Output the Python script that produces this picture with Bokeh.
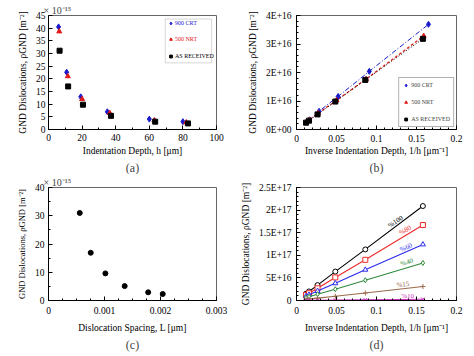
from bokeh.plotting import figure
from bokeh.layouts import gridplot
from bokeh.models import (Range1d, SingleIntervalTicker, Legend, LegendItem,
                          Title, CustomJSTickFormatter, BoxAnnotation, BasicTickFormatter)
from bokeh.embed import file_html
from bokeh.resources import INLINE
from bokeh.core.properties import value

FONT = "Liberation Serif"

# ---------------- data ----------------
# (a) GND density (x 1e-15) vs indentation depth h [um]
h_900 = [6.0, 10.8, 19.2, 35.0, 60.0, 80.0]
rho_900 = [40.5, 22.6, 12.9, 7.0, 4.1, 3.1]
h_500 = [6.4, 11.5, 20.0, 36.5, 63.0, 82.0]
rho_500 = [38.7, 21.0, 12.0, 6.5, 3.6, 2.8]
h_asr = [6.6, 11.7, 20.5, 37.2, 63.5, 83.0]
rho_asr = [31.1, 17.0, 9.8, 5.4, 3.1, 2.4]
series_names = ["900 CRT", "500 NRT", "AS RECEIVED"]

# (b) GND density vs inverse depth 1/h
inv_900 = [0.0123, 0.0164, 0.0282, 0.0520, 0.0910, 0.1650]
rb_900 = [2.6e15, 3.4e15, 6.4e15, 1.16e16, 2.04e16, 3.69e16]
inv_500 = [0.0120, 0.0158, 0.0270, 0.0500, 0.0870, 0.1590]
rb_500 = [2.5e15, 3.3e15, 5.7e15, 1.02e16, 1.77e16, 3.28e16]
inv_asr = [0.0119, 0.0156, 0.0263, 0.0485, 0.0860, 0.1580]
rb_asr = [2.4e15, 3.1e15, 5.3e15, 9.8e15, 1.74e16, 3.18e16]

# (c) GND density (x 1e-15) vs dislocation spacing L [um]
spacing_L = [0.000558, 0.000754, 0.001016, 0.00136, 0.00178, 0.00204]
rho_c = [31.0, 16.9, 9.6, 5.1, 2.9, 2.3]

# (d) GND density vs inverse depth for different fractions
inv_d = [0.0119, 0.0156, 0.0263, 0.0485, 0.0860, 0.1580]
frac_labels = ["%100", "%80", "%60", "%40", "%15", "%10"]
rho_d = {
    "%100": [1.5e16, 2.0e16, 3.4e16, 6.4e16, 1.13e17, 2.09e17],
    "%80": [1.2e16, 1.6e16, 2.7e16, 5.1e16, 9.0e16, 1.67e17],
    "%60": [9.5e15, 1.25e16, 2.1e16, 3.8e16, 6.8e16, 1.24e17],
    "%40": [6.5e15, 8.5e15, 1.4e16, 2.5e16, 4.5e16, 8.3e16],
    "%15": [2.4e15, 3.1e15, 5.2e15, 9.3e15, 1.65e16, 3.1e16],
    "%10": [2.0e14, 2.6e14, 4.4e14, 8.0e14, 1.4e15, 2.6e15],
}
# annotation anchors for the fraction labels (data units) and rotation (deg)
lab_x = [0.124, 0.136, 0.137, 0.138, 0.133, 0.139]
lab_y = [1.74e17, 1.55e17, 1.17e17, 8.4e16, 3.5e16, 1.0e16]
lab_angle = [34, 29, 24, 17, 6, 0]

BLUE = "#1a1acc"
RED = "#e01a1a"
BLACK = "#000000"
d_colors = ["#000000", "#ee2a2a", "#2a2aee", "#2e8b3a", "#9a6a4a", "#cc33bb"]
d_markers = ["circle", "square", "triangle", "diamond", "cross", "x"]

TOP_H = 174
BOT_H = 182


def style(p, xint, xminor, yint, yminor):
    p.outline_line_color = "#666666"
    p.xgrid.visible = False
    p.ygrid.visible = False
    p.xaxis[0].ticker = SingleIntervalTicker(interval=xint, num_minor_ticks=xminor)
    p.yaxis[0].ticker = SingleIntervalTicker(interval=yint, num_minor_ticks=yminor)
    for ax in (p.xaxis[0], p.yaxis[0]):
        ax.axis_line_color = "#000000"
        ax.major_tick_line_color = "#000000"
        ax.minor_tick_line_color = "#000000"
        ax.major_tick_in = 4
        ax.major_tick_out = 0
        ax.minor_tick_in = 2
        ax.minor_tick_out = 0
        ax.major_label_text_font = FONT
        ax.major_label_text_font_size = "9.5px"
        ax.major_label_text_color = "#000000"
        ax.axis_label_text_font = FONT
        ax.axis_label_text_font_size = "9.5px"
        ax.axis_label_text_font_style = "normal"
        ax.axis_label_text_color = "#000000"
    if yminor <= 1:
        p.yaxis[0].minor_tick_line_color = None


def panel_title(p, txt):
    t = Title(text=txt, align="center", text_font=FONT, text_font_size="12px",
              text_font_style="normal", standoff=0)
    p.add_layout(t, "below")


def exp_title(p):
    t = Title(text="× 10⁻¹⁵", align="left", offset=-5, text_font=FONT,
              text_font_size="10px", text_font_style="normal", standoff=0)
    p.add_layout(t, "above")


YLAB = "GND Dislocations, ρGND [m⁻²]"

# ---------------- (a) ----------------
pa = figure(width=237, height=TOP_H, output_backend="svg", toolbar_location=None,
            x_range=Range1d(0, 100), y_range=Range1d(0, 45),
            min_border_left=48, min_border_right=19, min_border_top=14, min_border_bottom=43)
style(pa, 20, 2, 5, 0)
pa.xaxis.axis_label = "Indentation Depth, h [μm]"
pa.yaxis.axis_label = YLAB
pa.xaxis.major_label_standoff = 4
pa.yaxis.major_label_standoff = 3
pa.xaxis.axis_label_standoff = 2
ra1 = pa.scatter(h_900, rho_900, marker="diamond", size=6, color=BLUE)
ra2 = pa.scatter(h_500, rho_500, marker="triangle", size=5, color=RED)
ra3 = pa.scatter(h_asr, rho_asr, marker="square", size=5, color=BLACK)
pa.add_layout(BoxAnnotation(left=69.5, right=97.1, bottom=26.3, top=43.6,
                            fill_color=None, line_color="#777777", line_width=1))
for r, name, col, vy in [(ra1, series_names[0], BLUE, 102),
                         (ra2, series_names[1], RED, 86),
                         (ra3, series_names[2], BLACK, 69)]:
    lg = Legend(items=[LegendItem(label=name, renderers=[r])], location=(119, vy),
                label_text_color=col, label_text_font=FONT, label_text_font_size="6px",
                glyph_height=8, glyph_width=7, label_height=8, label_standoff=1,
                padding=2, margin=0, border_line_color=None, background_fill_alpha=0)
    pa.add_layout(lg)
exp_title(pa)
panel_title(pa, "(a)")

# ---------------- (b) ----------------
pb = figure(width=237, height=TOP_H, output_backend="svg", toolbar_location=None,
            x_range=Range1d(0, 0.2), y_range=Range1d(0, 4e16),
            min_border_left=52, min_border_right=18, min_border_top=15, min_border_bottom=42)
style(pb, 0.05, 5, 1e16, 5)
pb.yaxis[0].formatter = CustomJSTickFormatter(code="""
    if (tick == 0) return "0E+00";
    return parseFloat(tick.toPrecision(3)).toExponential().toUpperCase();
""")
pb.xaxis.axis_label = "Inverse Indentation Depth, 1/h [μm⁻¹]"
pb.yaxis.axis_label = YLAB
pb.xaxis.major_label_standoff = 5
pb.yaxis.major_label_standoff = 5
pb.xaxis.axis_label_standoff = 1
pb.line(inv_900, rb_900, color=BLUE, line_width=1, line_dash="5 2 1 2")
pb.line(inv_500, rb_500, color=RED, line_width=1.2, line_dash="3 2")
pb.line(inv_asr, rb_asr, color=BLACK, line_width=1, line_dash="1 2")
rb1 = pb.scatter(inv_900, rb_900, marker="diamond", size=6, color=BLUE)
rb2 = pb.scatter(inv_500, rb_500, marker="triangle", size=5, color=RED)
rb3 = pb.scatter(inv_asr, rb_asr, marker="square", size=5, color=BLACK)
lgb = Legend(items=[LegendItem(label=series_names[0], renderers=[rb1]),
                    LegendItem(label=series_names[1], renderers=[rb2]),
                    LegendItem(label=series_names[2], renderers=[rb3])],
             location="bottom_right", label_text_font=FONT, label_text_font_size="6px",
             glyph_height=8, glyph_width=7, label_height=8, label_standoff=2, spacing=9,
             padding=3, margin=2, border_line_color="#666666", background_fill_color="white")
pb.add_layout(lgb)
panel_title(pb, "(b)")

# ---------------- (c) ----------------
pc = figure(width=237, height=BOT_H, output_backend="svg", toolbar_location=None,
            x_range=Range1d(0, 0.003), y_range=Range1d(0, 40),
            min_border_left=48, min_border_right=21, min_border_top=9, min_border_bottom=56)
style(pc, 0.001, 4, 10, 2)
pc.xaxis[0].formatter = BasicTickFormatter(use_scientific=False)
pc.xaxis.axis_label = "Dislocation Spacing, L [μm]"
pc.yaxis.axis_label = YLAB
pc.yaxis.axis_label_text_font_size = "8.5px"
pc.xaxis.major_label_standoff = 6
pc.yaxis.major_label_standoff = 4
pc.xaxis.axis_label_standoff = 6
pc.scatter(spacing_L, rho_c, marker="circle", size=5, color=BLACK)
exp_title(pc)
panel_title(pc, "(c)")

# ---------------- (d) ----------------
pd_ = figure(width=237, height=BOT_H, output_backend="svg", toolbar_location=None,
             x_range=Range1d(0, 0.2), y_range=Range1d(0, 2.5e17),
             min_border_left=52, min_border_right=18, min_border_top=9, min_border_bottom=56)
style(pd_, 0.05, 5, 5e16, 5)
pd_.yaxis[0].formatter = CustomJSTickFormatter(code="""
    if (tick == 0) return "0";
    return parseFloat(tick.toPrecision(3)).toExponential().toUpperCase();
""")
pd_.xaxis.axis_label = "Inverse Indentation Depth, 1/h [μm⁻¹]"
pd_.yaxis.axis_label = YLAB
pd_.xaxis.major_label_standoff = 6
pd_.yaxis.major_label_standoff = 5
pd_.xaxis.axis_label_standoff = 6
for name, col, mk in zip(frac_labels, d_colors, d_markers):
    pd_.line(inv_d, rho_d[name], color=col, line_width=1.1)
    pd_.scatter(inv_d, rho_d[name], marker=mk, size=5, line_color=col,
                fill_color="white", line_width=1)
pd_.text(x=lab_x, y=lab_y, text=frac_labels, angle=lab_angle, angle_units="deg",
         text_color=d_colors, text_font=value(FONT), text_font_size="7px",
         text_align="center", text_baseline="middle")
panel_title(pd_, "(d)")

grid = gridplot([[pa, pb], [pc, pd_]], toolbar_location=None)
open("out.html", "w").write(file_html(grid, INLINE))
